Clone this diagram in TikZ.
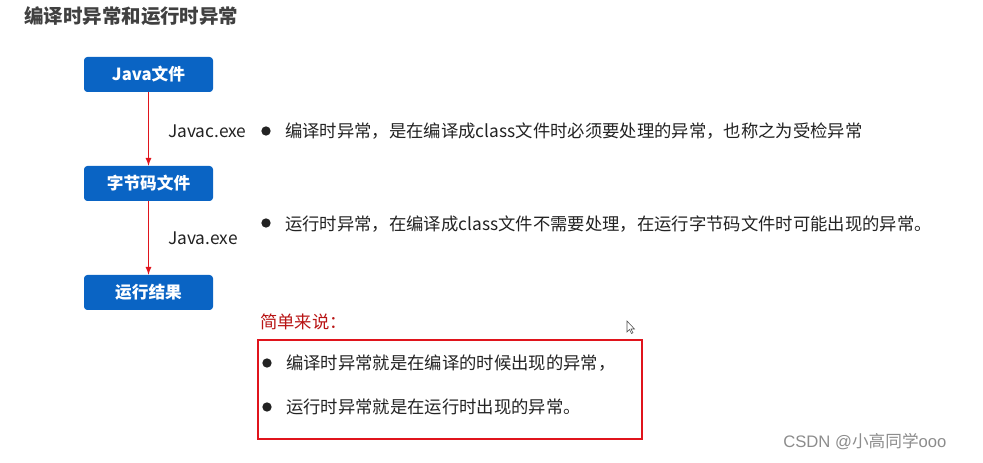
\documentclass[tikz,border=0pt]{standalone}
\usepackage{fontspec}
\setmainfont{Noto Sans CJK SC}
\newfontfamily\markfont{Liberation Sans}
\definecolor{boxblue}{HTML}{0A64C4}
\definecolor{arrred}{HTML}{E0141C}
\definecolor{darkred}{HTML}{B81414}
\definecolor{txtgray}{HTML}{222222}
\begin{document}
\begin{tikzpicture}[x=0.75pt,y=-0.75pt,
  flowbox/.style={fill=boxblue,rounded corners=2.5pt,text=white,font=\fontsize{12.5}{14}\selectfont\bfseries,
    minimum width=96.75pt,minimum height=26.25pt,inner sep=0pt},
  label/.style={anchor=west,inner sep=0pt,text=txtgray,font=\fontsize{13}{15}\selectfont},
  dot/.style={circle,fill=txtgray,inner sep=0pt,minimum size=7pt},
  flow/.style={arrred,line width=1pt,-latex}]
  \useasboundingbox (0,0) rectangle (983,463);
  % title
  \node[anchor=west,inner sep=0pt,text=black!75,font=\fontsize{14.6}{16}\selectfont\bfseries] (title) at (24,16) {编译时异常和运行时异常};
  % flow on the left
  \node[flowbox] (java) at (148.5,74.5) {Java文件};
  \node[flowbox] (byte) at (148.5,183.5) {字节码文件};
  \node[flowbox] (run) at (148.5,292.5) {运行结果};
  \draw[flow] (java) to (byte);
  \draw[flow] (byte) to (run);
  \node[label] (javac) at (168,131) {Javac.exe};
  \node[label] (javaexe) at (168,238) {Java.exe};
  % explanations
  \node[dot] (d1) at (266,131) {};
  \node[label] (t1) at (285,131) {编译时异常，是在编译成class文件时必须要处理的异常，也称之为受检异常};
  \node[dot] (d2) at (266,223) {};
  \node[label] (t2) at (285,224) {运行时异常，在编译成class文件不需要处理，在运行字节码文件时可能出现的异常。};
  % summary
  \node[label,text=darkred] (sum) at (260,322) {简单来说：};
  \draw[arrred,line width=1.2pt] (258,340) rectangle (642,439);
  \node[dot] (d3) at (267,363) {};
  \node[label] (t3) at (286,363) {编译时异常就是在编译的时候出现的异常，};
  \node[dot] (d4) at (267,407) {};
  \node[label] (t4) at (286,407) {运行时异常就是在运行时出现的异常。};
  % mouse pointer
  \draw[black!70,fill=white,line width=0.4pt] (627,321) -- (627,332) -- (629.5,329.5) -- (631.5,333.5) -- (633,332.8) -- (631,329) -- (634.5,329) -- cycle;
  % watermark
  \node[anchor=west,inner sep=0pt,text=black!45,font=\fontsize{12.5}{14}\selectfont] (mark) at (783,442) {{\markfont CSDN @}小高同学{\markfont ooo}};
\end{tikzpicture}
\end{document}
